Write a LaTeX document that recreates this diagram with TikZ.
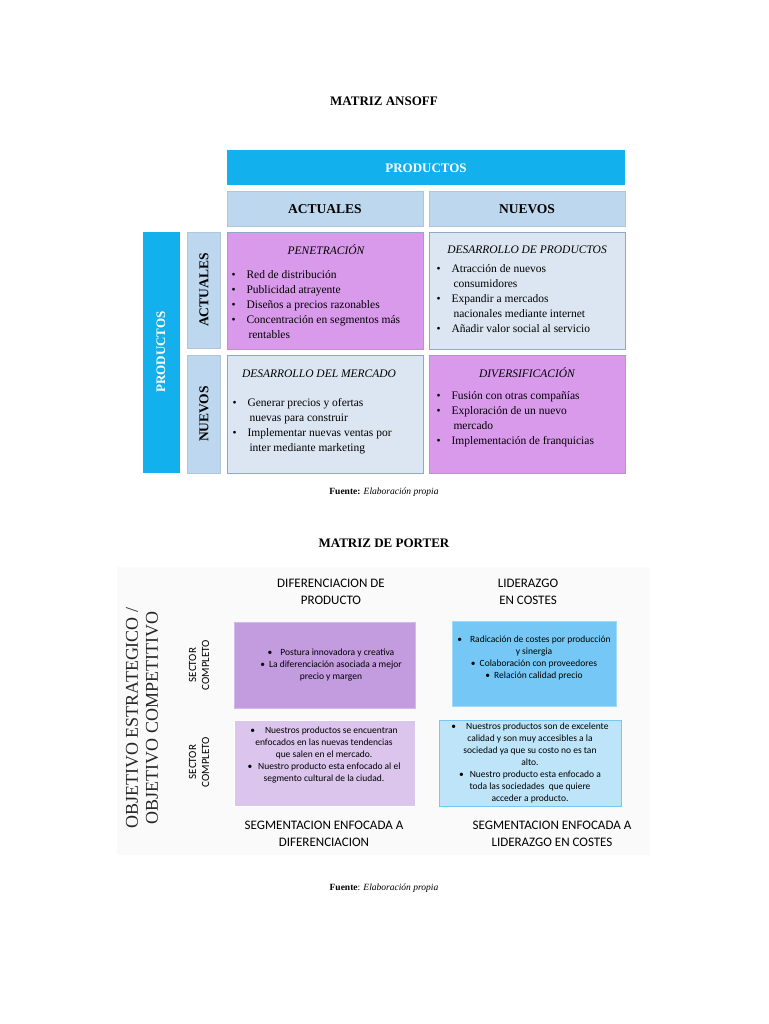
\documentclass[tikz,border=0pt]{standalone}
\usepackage{fontspec}
\setmainfont{Liberation Serif}
\newfontfamily\calfnt{Carlito}
\definecolor{hcy}{HTML}{12B0EC}
\definecolor{hlb}{HTML}{BDD7EE}
\definecolor{hmg}{HTML}{D99AEB}
\definecolor{hpl}{HTML}{DCE6F2}
\definecolor{hbd}{HTML}{8EA9C8}
\definecolor{ptl}{HTML}{C39BDF}
\definecolor{ptr}{HTML}{75C8F6}
\definecolor{pbl}{HTML}{DCC5EC}
\definecolor{pbr}{HTML}{BDE4F8}
\begin{document}
\begin{tikzpicture}[x=1pt,y=-1pt,
  hdr/.style={fill=hcy,draw=none},
  lb/.style={fill=hlb,draw=hlb!80!gray},
  mag/.style={fill=hmg,draw=hbd},
  pale/.style={fill=hpl,draw=hbd},
  pc/.style={font=\calfnt\fontsize{9.5}{12}\selectfont,align=center},
  ac/.style={font=\fontsize{11.5}{15}\selectfont,align=left,anchor=north west}]
\useasboundingbox (0,0) rectangle (768,1024);
\fill[white] (0,0) rectangle (768,1024);
\node[font=\bfseries\fontsize{13}{15}\selectfont] (t1) at (384,101) {MATRIZ ANSOFF};
\draw[hdr] (227,150) rectangle (625,185);
\node[text=white,font=\bfseries\fontsize{13}{15}\selectfont] (ph) at (426,168) {PRODUCTOS};
\draw[lb] (227,191) rectangle (423,226);
\draw[lb] (429,191) rectangle (625,226);
\node[font=\bfseries\fontsize{13.5}{15}\selectfont] (ha) at (325,209) {ACTUALES};
\node[font=\bfseries\fontsize{13.5}{15}\selectfont] (hn) at (527,209) {NUEVOS};
\draw[hdr] (143,232) rectangle (180,473);
\node[rotate=90,text=white,font=\bfseries\fontsize{13}{15}\selectfont] (pv) at (161,352) {PRODUCTOS};
\draw[lb] (187,232) rectangle (220,348);
\draw[lb] (187,355) rectangle (220,473);
\node[rotate=90,font=\bfseries\fontsize{13.5}{15}\selectfont] (ra) at (204,290) {ACTUALES};
\node[rotate=90,font=\bfseries\fontsize{13.5}{15}\selectfont] (rn) at (204,414) {NUEVOS};
\draw[mag] (227,232) rectangle (423,349);
\draw[pale] (429,232) rectangle (625,349);
\draw[pale] (227,355) rectangle (423,473);
\draw[mag] (429,355) rectangle (625,473);
\node[font=\itshape\fontsize{11.5}{13}\selectfont] (c1) at (326,250) {PENETRACIÓN};
\node[font=\itshape\fontsize{11.5}{13}\selectfont] (c2) at (527,250) {DESARROLLO DE PRODUCTOS};
\node[font=\itshape\fontsize{11.5}{13}\selectfont] (c3) at (319,374) {DESARROLLO DEL MERCADO};
\node[font=\itshape\fontsize{11.5}{13}\selectfont] (c4) at (527,373) {DIVERSIFICACIÓN};
\node[ac] (l1) at (228,267) {\textbullet\hspace{11pt}Red de distribución\\
\textbullet\hspace{11pt}Publicidad atrayente\\
\textbullet\hspace{11pt}Diseños a precios razonables\\
\textbullet\hspace{11pt}Concentración en segmentos más\\
\hspace{17pt}rentables};
\node[ac] (l2) at (433,261) {\textbullet\hspace{11pt}Atracción de nuevos\\
\hspace{17pt}consumidores\\
\textbullet\hspace{11pt}Expandir a mercados\\
\hspace{17pt}nacionales mediante internet\\
\textbullet\hspace{11pt}Añadir valor social al servicio};
\node[ac] (l3) at (229,395) {\textbullet\hspace{11pt}Generar precios y ofertas\\
\hspace{17pt}nuevas para construir\\
\textbullet\hspace{11pt}Implementar nuevas ventas por\\
\hspace{17pt}inter mediante marketing};
\node[ac] (l4) at (433,388) {\textbullet\hspace{11pt}Fusión con otras compañías\\
\textbullet\hspace{11pt}Exploración de un nuevo\\
\hspace{17pt}mercado\\
\textbullet\hspace{11pt}Implementación de franquicias};
\node[font=\fontsize{9.5}{11}\selectfont] (f1) at (384,492) {\textbf{Fuente:} \textit{Elaboración propia}};
% Porter
\node[font=\bfseries\fontsize{13}{15}\selectfont] (t2) at (384,543) {MATRIZ DE PORTER};
\fill[gray!4] (117,567) rectangle (650,855);
\node[pc,font=\calfnt\fontsize{13}{16.5}\selectfont] (h1) at (331,592) {DIFERENCIACION DE\\PRODUCTO};
\node[pc,font=\calfnt\fontsize{13}{16.5}\selectfont] (h2) at (528,592) {LIDERAZGO\\EN COSTES};
\node[pc,font=\calfnt\fontsize{13}{16.5}\selectfont] (b1) at (324,834) {SEGMENTACION ENFOCADA A\\DIFERENCIACION};
\node[pc,font=\calfnt\fontsize{13}{16.5}\selectfont] (b2) at (552,834) {SEGMENTACION ENFOCADA A\\LIDERAZGO EN COSTES};
\node[rotate=90,align=center,font=\fontsize{18}{20}\selectfont,text=black!85] (ob) at (142,718) {OBJETIVO ESTRATEGICO /\\OBJETIVO COMPETITIVO};
\node[rotate=90,pc,font=\calfnt\fontsize{11}{13}\selectfont] (s1) at (199,665) {SECTOR\\COMPLETO};
\node[rotate=90,pc,font=\calfnt\fontsize{11}{13}\selectfont] (s2) at (199,762) {SECTOR\\COMPLETO};
\fill[ptl,draw=ptl!70!white] (234,622) rectangle (415,708);
\fill[ptr,draw=ptr!70!white] (452,621) rectangle (616,706);
\fill[pbl,draw=white] (234,720) rectangle (415,806);
\fill[pbr,draw=ptr] (439,720) rectangle (621,806);
\node[pc] (p1) at (331,665) {\textbullet\hspace{8pt}Postura innovadora y creativa\\
\textbullet\hspace{4pt}La diferenciación asociada a mejor\\precio y margen};
\node[pc] (p2) at (534,658) {\textbullet\hspace{8pt}Radicación de costes por producción\\y sinergia\\
\textbullet\hspace{4pt}Colaboración con proveedores\\
\textbullet\hspace{4pt}Relación calidad precio};
\node[pc] (p3) at (324,755) {\textbullet\hspace{10pt}Nuestros productos se encuentran\\enfocados en las nuevas tendencias\\que salen en el mercado.\\
\textbullet\hspace{6pt}Nuestro producto esta enfocado al el\\segmento cultural de la ciudad.};
\node[pc] (p4) at (530,763) {\textbullet\hspace{10pt}Nuestros productos son de excelente\\calidad y son muy accesibles a la\\sociedad ya que su costo no es tan\\alto.\\
\textbullet\hspace{6pt}Nuestro producto esta enfocado a\\toda las sociedades\ \ que quiere\\acceder a producto.};
\node[font=\fontsize{9.5}{11}\selectfont] (f2) at (384,888) {\textbf{Fuente}: \textit{Elaboración propia}};
\end{tikzpicture}
\end{document}
